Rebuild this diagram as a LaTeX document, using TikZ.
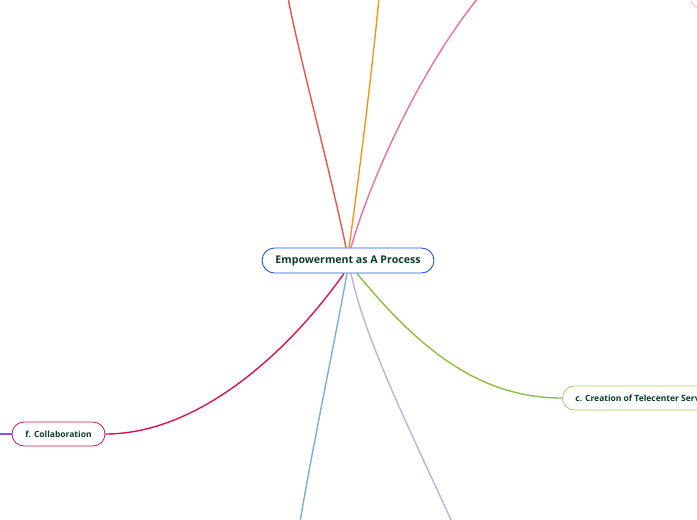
\documentclass[tikz,border=0pt]{standalone}
\usepackage{fontspec}
\setmainfont{Open Sans}
\usepackage{tikz}
\usetikzlibrary{positioning,calc,backgrounds}

\definecolor{txtgreen}{HTML}{0B3D2C}
\definecolor{rootblue}{HTML}{2459E8}
\definecolor{redbr}{HTML}{E8554E}
\definecolor{orangebr}{HTML}{F7941D}
\definecolor{pinkbr}{HTML}{F06E9C}
\definecolor{pinklight}{HTML}{F9B8CF}
\definecolor{greenbr}{HTML}{8CBF3F}
\definecolor{crimsonbr}{HTML}{E0114F}
\definecolor{bluebr}{HTML}{7AAFD9}
\definecolor{lavenderbr}{HTML}{BCB2DE}
\definecolor{purplebr}{HTML}{8A4DFF}

\begin{document}
\begin{tikzpicture}[x=1pt, y=-1pt]
            \tikzstyle{root} = [rectangle, draw=rootblue, line width=0.9pt, text=txtgreen, font=\fontsize{10.6}{12}\selectfont\bfseries, minimum width=172pt, minimum height=25pt, rounded corners=12.5pt, fill=white]
            \tikzstyle{topic} = [rectangle, line width=0.8pt, text=txtgreen, font=\fontsize{8.5}{10}\selectfont\bfseries, minimum height=24pt, inner xsep=13pt, rounded corners=12pt, fill=white]
            \tikzstyle{branch} = [line width=1.4pt]

            \useasboundingbox (0,0) rectangle (697,520);
            \clip (0,0) rectangle (697,520);

            \node [root] (process) at (348,260.5) {Empowerment as A Process};
            \node [topic, draw=crimsonbr, minimum width=93pt] (collab) at (58.5,434) {f. Collaboration};
            \node [topic, draw=greenbr!80, anchor=west] (telecenter) at (562,398) {c. Creation of Telecenter Services};
            \node [topic, draw=pinklight, anchor=south west, minimum width=120pt] (pinktopic) at (690,9.5) {};
            \coordinate (redend) at (288,-2);
            \coordinate (orangeend) at (379,-2);
            \coordinate (pinkend) at (478,-2);
            \coordinate (blueend) at (300,522);
            \coordinate (lavenderend) at (452,522);
            \coordinate (purpleend) at (-2,434);

            % branches from the root, behind the boxes
            \begin{scope}[on background layer]
            \draw [branch, redbr] ([xshift=-2pt]process.north) .. controls (330,170) and (300,60) .. (redend);
            \draw [branch, orangebr] ([xshift=1pt]process.north) .. controls (360,170) and (372,70) .. (orangeend);
            \draw [branch, pinkbr] ([xshift=3pt]process.north) .. controls (370,180) and (420,70) .. (pinkend);
            \draw [branch, greenbr] ([xshift=9pt]process.south) .. controls (420,350) and (480,398) .. (telecenter.west);
            \draw [branch, crimsonbr] ([xshift=-4pt]process.south) .. controls (290,350) and (200,434) .. (collab.east);
            \draw [branch, bluebr] ([xshift=-1pt]process.south) .. controls (335,340) and (312,450) .. (blueend);
            \draw [branch, lavenderbr] ([xshift=3pt]process.south) .. controls (365,340) and (410,430) .. (lavenderend);
            \draw [branch, purplebr] (collab.west) -- (purpleend);
            \end{scope}
        \end{tikzpicture}
\end{document}
